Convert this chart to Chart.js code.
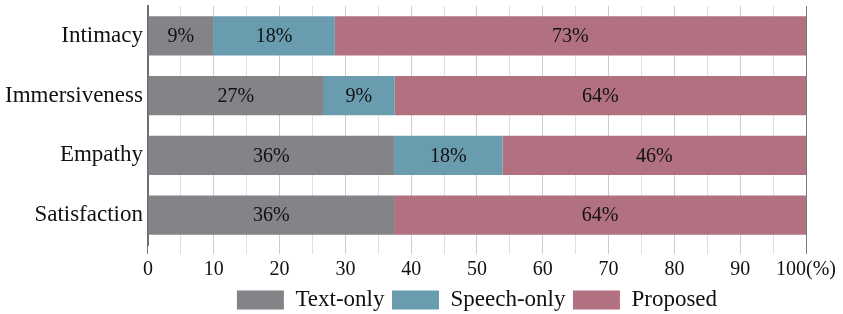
<!DOCTYPE html>
<html>
<head>
<meta charset="utf-8">
<script src="https://cdn.jsdelivr.net/npm/chart.js@4.4.1/dist/chart.umd.min.js"></script>
<style>
html,body{margin:0;padding:0;background:#fff;}
#wrap{width:843px;height:314px;position:relative;}
</style>
</head>
<body>
<div id="wrap"><canvas id="c" width="843" height="314"></canvas></div>
<script>
const categories = ['Intimacy', 'Immersiveness', 'Empathy', 'Satisfaction'];
const seriesNames = ['Text-only', 'Speech-only', 'Proposed'];
const textOnly = [9.9, 26.6, 37.4, 37.4];
const speechOnly = [18.5, 10.9, 16.5, 0];
const proposed = [71.6, 62.5, 46.1, 62.6];
const textOnlyLabels = ['9%', '27%', '36%', '36%'];
const speechOnlyLabels = ['18%', '9%', '18%', ''];
const proposedLabels = ['73%', '64%', '46%', '64%'];
const xTickValues = [0, 10, 20, 30, 40, 50, 60, 70, 80, 90, 100];

const colors = ['#838388', '#6a9cb0', '#b27181'];
const FONT = '"Liberation Serif", "Times New Roman", serif';

const segLabels = {
  id: 'segLabels',
  afterDatasetsDraw(chart) {
    const ctx = chart.ctx;
    const all = [textOnlyLabels, speechOnlyLabels, proposedLabels];
    ctx.save();
    ctx.font = '20px ' + FONT;
    ctx.fillStyle = '#111';
    ctx.textAlign = 'center';
    ctx.textBaseline = 'middle';
    chart.data.datasets.forEach((ds, i) => {
      const meta = chart.getDatasetMeta(i);
      meta.data.forEach((el, j) => {
        const t = all[i][j];
        if (!t || !ds.data[j]) return;
        const p = el.getCenterPoint();
        ctx.fillText(t, p.x, p.y + 1);
      });
    });
    ctx.restore();
  }
};

new Chart(document.getElementById('c'), {
  type: 'bar',
  data: {
    labels: categories,
    datasets: [
      { label: seriesNames[0], data: textOnly, backgroundColor: colors[0] },
      { label: seriesNames[1], data: speechOnly, backgroundColor: colors[1] },
      { label: seriesNames[2], data: proposed, backgroundColor: colors[2] }
    ]
  },
  options: {
    indexAxis: 'y',
    responsive: false,
    animation: false,
    devicePixelRatio: 1,
    layout: { padding: { top: 0, right: 0, left: 0, bottom: -7.5 } },
    datasets: { bar: { categoryPercentage: 1, barPercentage: 0.66, borderWidth: 0 } },
    scales: {
      x: {
        stacked: true,
        min: 0, max: 100,
        border: { display: false },
        grid: {
          drawTicks: true,
          tickLength: 9,
          lineWidth: 1,
          color: (c) => {
            const v = c.tick ? c.tick.value : 0;
            if (v === 0 || v === 100) return '#7a7a7a';
            return v % 10 === 0 ? '#cdcdcd' : '#e0e0e0';
          }
        },
        afterBuildTicks: (axis) => {
          const ticks = [];
          xTickValues.forEach((v, k) => {
            ticks.push({ value: v });
            if (k < xTickValues.length - 1) ticks.push({ value: (v + xTickValues[k + 1]) / 2 });
          });
          axis.ticks = ticks;
        },
        afterFit: (axis) => {
          axis.height = 36;
          axis.paddingRight = 37;
          axis.paddingLeft = 0;
        },
        ticks: {
          autoSkip: false,
          maxRotation: 0,
          padding: 15,
          color: '#111',
          font: { family: FONT, size: 20, lineHeight: 0.1 },
          callback: (v) => xTickValues.includes(v) ? (v === 100 ? '100(%)' : String(v)) : ''
        }
      },
      y: {
        stacked: true,
        border: { display: true, color: '#6e6e6e', width: 2 },
        grid: { display: false, drawTicks: false },
        afterFit: (axis) => {
          axis.paddingTop = 6;
          axis.paddingBottom = 0;
        },
        ticks: {
          padding: 5,
          color: '#111',
          font: { family: FONT, size: 23 }
        }
      }
    },
    plugins: {
      tooltip: { enabled: false },
      legend: {
        position: 'bottom',
        fullSize: false,
        labels: {
          boxWidth: 47,
          boxHeight: 19,
          padding: 7.5,
          color: '#111',
          font: { family: FONT, size: 23 }
        }
      }
    }
  },
  plugins: [segLabels]
});
</script>
</body>
</html>
